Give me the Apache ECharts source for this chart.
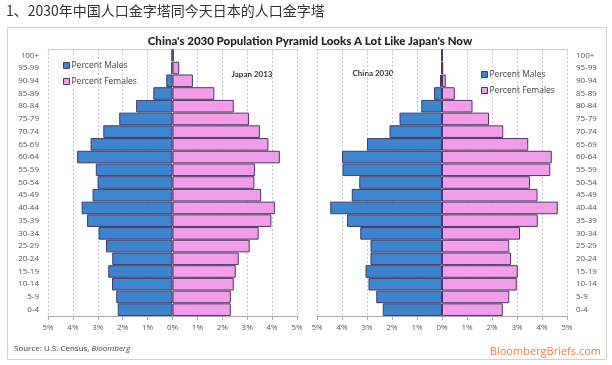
<!DOCTYPE html>
<html><head><meta charset="utf-8">
<script src="https://cdn.jsdelivr.net/npm/echarts@6/dist/echarts.min.js"></script>
<style>html,body{margin:0;padding:0;background:#fff}#c{width:612px;height:365px}</style>
</head><body><div id="c"></div>
<script>
const ageGroups = ['0-4','5-9','10-14','15-19','20-24','25-29','30-34','35-39','40-44','45-49','50-54','55-59','60-64','65-69','70-74','75-79','80-84','85-89','90-94','95-99','100+'];
const japanMales   = [2.20,2.26,2.43,2.58,2.42,2.67,2.97,3.43,3.65,3.21,3.01,3.08,3.83,3.29,2.78,2.14,1.46,0.77,0.25,0.05,0.04];
const japanFemales = [2.34,2.34,2.46,2.54,2.66,3.10,3.46,3.97,4.11,3.56,3.29,3.31,4.31,3.85,3.51,3.07,2.46,1.68,0.82,0.27,0.05];
const chinaMales   = [2.37,2.63,2.94,3.06,2.86,2.86,3.27,3.80,4.47,3.61,3.31,3.98,4.00,3.00,2.10,1.70,0.83,0.32,0.08,0.04,0.03];
const chinaFemales = [2.43,2.69,2.99,3.03,2.76,2.69,3.12,3.83,4.63,3.82,3.52,4.33,4.39,3.45,2.45,1.88,1.22,0.51,0.15,0.05,0.04];
const pctTicks = [-5,5,1];

const chart = echarts.init(document.getElementById('c'));
const MALE = '#3d85cf', FEMALE = '#f39ce9', EDGE = '#4a3863';
const axFont = {fontFamily:'Open Sans', fontSize:8, color:'#555'};

function xAx(gi){
  return [{
    gridIndex:gi, type:'value', min:pctTicks[0], max:pctTicks[1], interval:pctTicks[2], position:'bottom',
    axisLine:{show:true,lineStyle:{color:'#aaa'}},
    axisTick:{show:true,length:4,lineStyle:{color:'#aaa'}},
    axisLabel:Object.assign({formatter:v=>Math.abs(v)+'%', margin:8}, axFont),
    splitLine:{show:true,lineStyle:{color:'#c8c8c8',type:[2,2]}}
  },{
    gridIndex:gi, type:'value', min:pctTicks[0], max:pctTicks[1], interval:pctTicks[2], position:'top',
    axisLine:{show:true,lineStyle:{color:'#ccc'}},
    axisTick:{show:true,inside:true,length:3,lineStyle:{color:'#ccc'}},
    axisLabel:{show:false}, splitLine:{show:false}
  }];
}
function yAx(gi,pos){
  return {gridIndex:gi, type:'category', data:ageGroups, position:pos,
    axisLine:{show:false}, axisTick:{show:false},
    axisLabel:Object.assign({margin:9, align: pos==='left'?'right':'left'}, axFont)};
}
function bars(name,xi,yi,data,color,neg){
  return {name, type:'bar', xAxisIndex:xi, yAxisIndex:yi, stack:'s'+yi,
    data: data.map(v=> neg ? -v : v), barCategoryGap:'1%',
    itemStyle:{color, borderColor:EDGE, borderWidth:1}, silent:true, animation:false};
}
const legendCommon = {orient:'vertical', itemWidth:6, itemHeight:6, itemGap:7, icon:'rect',
  data:['Percent Males','Percent Females'],
  textStyle:{fontFamily:'Open Sans',fontSize:8.5,color:'#444',padding:[0,0,0,-3]},
  itemStyle:{borderColor:EDGE,borderWidth:1}};
chart.setOption({
  animation:false,
  textStyle:{fontFamily:'Open Sans'},
  grid:[
    {left:48, right:612-297, top:49, bottom:365-316},
    {left:317, right:612-567, top:49, bottom:365-316}
  ],
  xAxis:[...xAx(0), ...xAx(1)],
  yAxis:[yAx(0,'left'), yAx(1,'right')],
  legend:[
    Object.assign({left:58, top:56}, legendCommon),
    Object.assign({left:476, top:65}, legendCommon)
  ],
  series:[
    bars('Percent Males',0,0,japanMales,MALE,true),
    bars('Percent Females',0,0,japanFemales,FEMALE,false),
    bars('Percent Males',2,1,chinaMales,MALE,true),
    bars('Percent Females',2,1,chinaFemales,FEMALE,false)
  ],
  graphic:[
    {type:'rect', shape:{x:7.5,y:27.5,width:599,height:332}, style:{fill:'none',stroke:'#d0d0d0',lineWidth:1}, silent:true, z:-1},
    {type:'text', left:6, top:4, style:{text:'1、2030年中国人口金字塔同今天日本的人口金字塔', font:'14px "Noto Sans CJK SC"', fill:'#333'}},
    {type:'text', x:310, y:41, style:{text:"China's 2030 Population Pyramid Looks A Lot Like Japan's Now", font:'900 11.5px Lato', fill:'#222', align:'center', verticalAlign:'middle'}},
    {type:'text', x:252, y:74, style:{text:'Japan 2013', font:'bold 8px Lato', fill:'#333', align:'center', verticalAlign:'middle'}},
    {type:'text', x:373, y:73, style:{text:'China 2030', font:'bold 8px Lato', fill:'#333', align:'center', verticalAlign:'middle'}},
    {type:'text', x:14, y:349, style:{rich:{a:{font:'8px "Open Sans"',fill:'#444'},b:{font:'italic 8px "Open Sans"',fill:'#444'}}, text:'{a|Source: U.S. Census, }{b|Bloomberg}', verticalAlign:'middle'}},
    {type:'text', x:601, y:352, style:{text:'BloombergBriefs.com', font:'11px "Open Sans"', fill:'#ee7d42', align:'right', verticalAlign:'middle'}}
  ]
});
</script></body></html>
